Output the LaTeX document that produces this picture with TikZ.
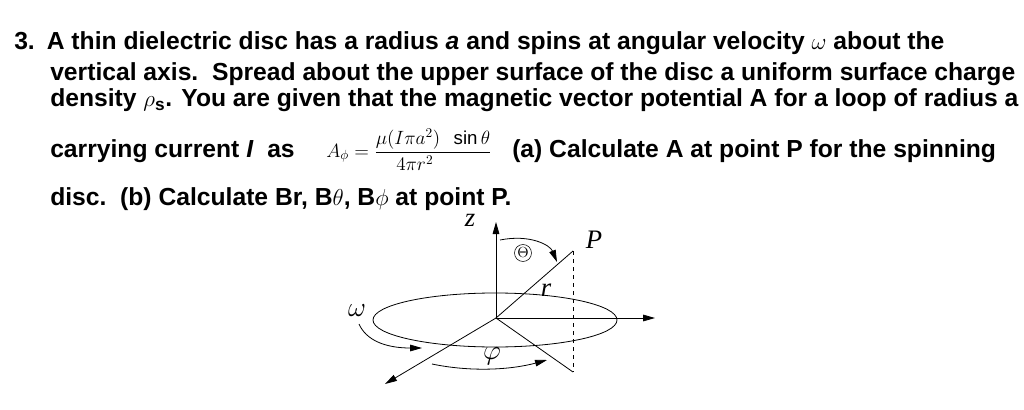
\documentclass[tikz,border=0pt]{standalone}
\usepackage{fontspec}
\setmainfont{Liberation Sans}
\newfontfamily\serifx{Liberation Serif}
\usetikzlibrary{arrows.meta}
\begin{document}
\begin{tikzpicture}[x=0.75pt,y=-0.75pt,
  txt/.style={anchor=base west,inner sep=0,font=\bfseries\fontsize{18.5}{20}\selectfont},
  ln/.style={line width=0.6pt},
  arr/.style={ln,-{Triangle[length=9pt,width=5pt]}},
  lbl/.style={inner sep=0,font=\serifx\itshape\fontsize{20}{20}\selectfont}]
\useasboundingbox (0,0) rectangle (1024,410);
\node[txt] (l1) at (14,50) {3.\hspace{9pt}A thin dielectric disc has a radius \textit{a} and spins at angular velocity $\omega$ about the};
\node[txt] (l2) at (50,80) {vertical axis.\ \ Spread about the upper surface of the disc a uniform surface charge};
\node[txt] (l3) at (50,107) {density $\rho$\textsubscript{s}. You are given that the magnetic vector potential A for a loop of radius a};
\node[txt] (l4) at (50,157) {carrying current \textit{I}\ \ as};
\node[anchor=base west,inner sep=0,font=\fontsize{14}{16}\selectfont] (f) at (326,157) {$\displaystyle A_\phi=\frac{\mu(I\pi a^2)\ \ \sin\theta}{4\pi r^2\hphantom{\sin\theta}}$};
\node[txt] (l4b) at (512,157) {(a) Calculate A at point P for the spinning};
\node[txt] (l5) at (50,205) {disc.\ \ (b) Calculate Br, B$\theta$, B$\phi$ at point P.};
% figure
\coordinate (O) at (496,318);
\coordinate (Z) at (496,222);
\coordinate (X) at (655,318);
\coordinate (Y) at (385,384);
\coordinate (P) at (573,251);
\coordinate (Q) at (573,372);
\draw[ln] (495,320) ellipse [x radius=122,y radius=27];
\draw[arr] (O) -- (Z);
\draw[arr] (O) -- (X);
\draw[arr] (O) -- (Y);
\draw[ln] (O) -- (P);
\draw[ln] (O) -- (Q);
\draw[ln,dashed] (P) -- (Q);
\node[lbl] (zl) at (470,220) {z};
\node[lbl] (pl) at (594,240) {P};
\node[lbl] (rl) at (546,290) {r};
\node[lbl] (phil) at (492,356) {$\varphi$};
\node[lbl] (wl) at (357,311) {$\omega$};
\node[inner sep=0.5pt,circle,draw,font=\serifx\fontsize{11}{11}\selectfont] (th) at (523,253) {$\Theta$};
\coordinate (t1) at (500,240);\coordinate (t2) at (557,262);
\draw[arr] (t1) .. controls (530,234) and (550,245) .. (t2);
\coordinate (f1) at (432,364);\coordinate (f2) at (547,360);
\draw[arr] (f1) .. controls (470,372) and (510,370) .. (f2);
\coordinate (w1) at (359,324);\coordinate (w2) at (422,348);
\draw[arr] (w1) .. controls (366,340) and (385,348) .. (w2);
\end{tikzpicture}
\end{document}
